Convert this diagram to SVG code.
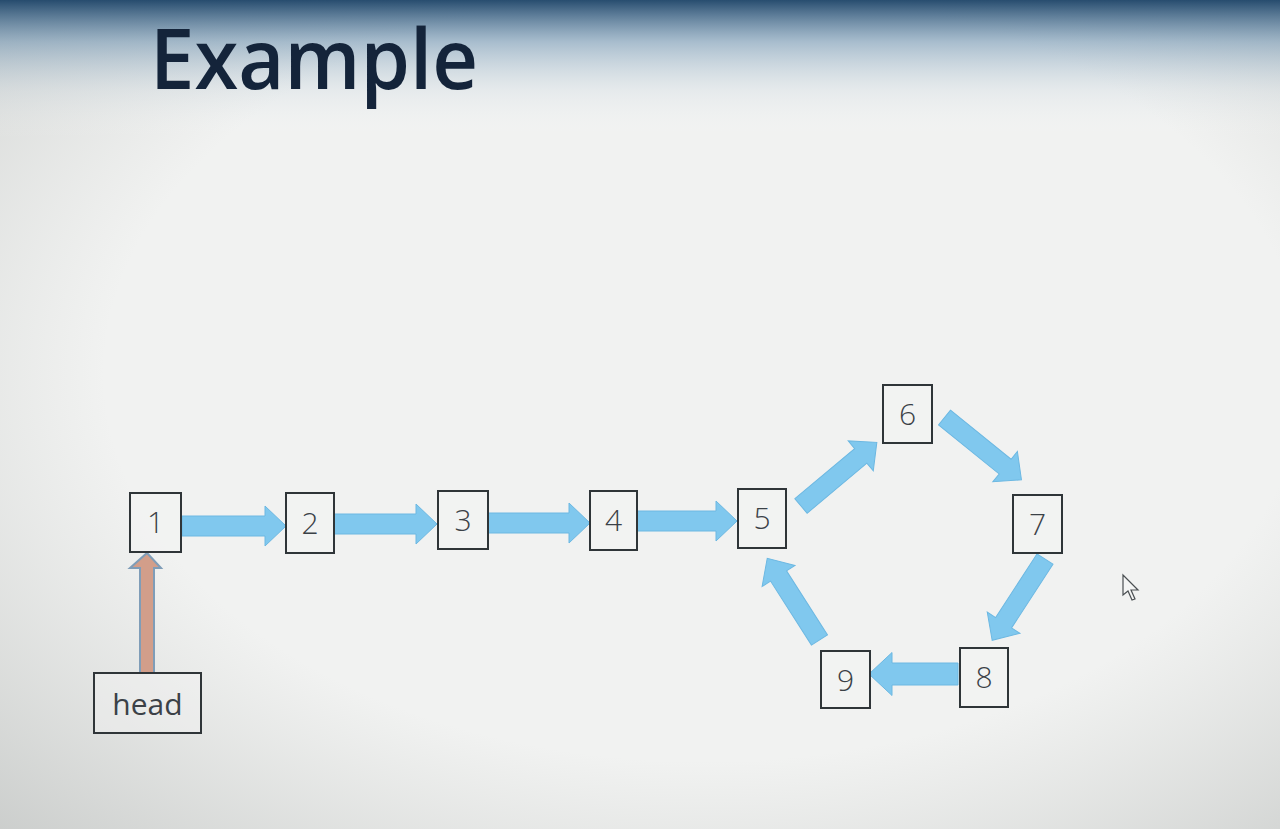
<svg xmlns="http://www.w3.org/2000/svg" width="1280" height="829" viewBox="0 0 1280 829">
<defs>
<linearGradient id="topShade" x1="0" y1="0" x2="0" y2="1">
<stop offset="0" stop-color="#1d4468" stop-opacity="0.95"/>
<stop offset="0.3" stop-color="#5f88aa" stop-opacity="0.5"/>
<stop offset="0.65" stop-color="#b9cbd8" stop-opacity="0.2"/>
<stop offset="1" stop-color="#ffffff" stop-opacity="0"/>
</linearGradient>
<radialGradient id="vignette" cx="0.55" cy="0.45" r="0.78">
<stop offset="0.6" stop-color="#a8aca8" stop-opacity="0"/>
<stop offset="1" stop-color="#9ea2a0" stop-opacity="0.45"/>
</radialGradient>
<style>
.box{fill:#f4f5f4;fill-opacity:0.4;stroke:#2f3538;stroke-width:2}
.lbl{font-family:"Open Sans","Liberation Sans",sans-serif;font-size:30px;font-weight:300;fill:#3b4147;text-anchor:middle}
.arr{fill:#80c8ee;stroke:#6cb8e2;stroke-width:1}
</style>
</defs>
<rect width="1280" height="829" fill="#f1f2f1"/>
<rect width="1280" height="829" fill="url(#vignette)"/>
<rect width="1280" height="140" fill="url(#topShade)"/>
<text x="150" y="89" font-family="'Open Sans','Liberation Sans',sans-serif" font-size="84" font-weight="600" fill="#14243a" textLength="328" lengthAdjust="spacingAndGlyphs">Example</text>
<g id="connectors">
<polygon class="arr" transform="translate(182,526)" points="0,-10 83,-10 83,-20 104,0 83,20 83,10 0,10"/>
<polygon class="arr" transform="translate(334,524)" points="0,-10 82,-10 82,-20 103,0 82,20 82,10 0,10"/>
<polygon class="arr" transform="translate(488,523)" points="0,-10 81,-10 81,-20 102,0 81,20 81,10 0,10"/>
<polygon class="arr" transform="translate(637,521)" points="0,-10 79,-10 79,-20 100,0 79,20 79,10 0,10"/>
<polygon class="arr" transform="translate(801,506) rotate(-40)" points="0,-9.5 78,-9.5 78,-19.5 99,0 78,19.5 78,9.5 0,9.5"/>
<polygon class="arr" transform="translate(944.5,417.5) rotate(39)" points="0,-9.5 78,-9.5 78,-19.5 99,0 78,19.5 78,9.5 0,9.5"/>
<polygon class="arr" transform="translate(1045,559) rotate(123)" points="0,-9.5 76,-9.5 76,-19.5 97,0 76,19.5 76,9.5 0,9.5"/>
<polygon class="arr" transform="translate(958,674) rotate(180)" points="0,-11 66,-11 66,-21.5 89,0 66,21.5 66,11 0,11"/>
<polygon class="arr" transform="translate(819.5,640) rotate(-122.6)" points="0,-9.5 76,-9.5 76,-19.5 97,0 76,19.5 76,9.5 0,9.5"/>
<polygon fill="#d29e8a" stroke="#7f9db8" stroke-width="2" points="140,673 140,568 130,568 147,553 161,568 154,568 154,673"/>
</g>
<g id="node1"><rect class="box" x="130" y="493" width="51" height="59"/><text class="lbl" x="155.5" y="533">1</text></g>
<g id="node2"><rect class="box" x="286" y="493" width="48" height="60"/><text class="lbl" x="310" y="534">2</text></g>
<g id="node3"><rect class="box" x="438" y="491" width="50" height="58"/><text class="lbl" x="463" y="531">3</text></g>
<g id="node4"><rect class="box" x="590" y="491" width="47" height="59"/><text class="lbl" x="613.5" y="531">4</text></g>
<g id="node5"><rect class="box" x="738" y="489" width="48" height="59"/><text class="lbl" x="762" y="529">5</text></g>
<g id="node6"><rect class="box" x="883" y="385" width="49" height="58"/><text class="lbl" x="907.5" y="425">6</text></g>
<g id="node7"><rect class="box" x="1013" y="495" width="49" height="58"/><text class="lbl" x="1037.5" y="535">7</text></g>
<g id="node8"><rect class="box" x="960" y="648" width="48" height="59"/><text class="lbl" x="984" y="688">8</text></g>
<g id="node9"><rect class="box" x="821" y="651" width="49" height="57"/><text class="lbl" x="845.5" y="691">9</text></g>
<g id="head"><rect class="box" x="94" y="673" width="107" height="60"/><text class="lbl" x="147.5" y="715" style="font-weight:400">head</text></g>
<g id="cursor"><polygon points="1123,575 1123,595 1128,591 1132,600 1135,599 1131,590 1138,590" fill="#f4f5f4" stroke="#4a4f52" stroke-width="1.2"/></g>
</svg>
